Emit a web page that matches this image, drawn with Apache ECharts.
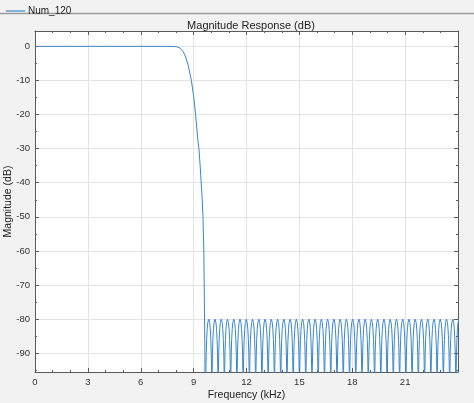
<!DOCTYPE html>
<html>
<head>
<meta charset="utf-8">
<script src="https://cdn.jsdelivr.net/npm/echarts@6/dist/echarts.min.js"></script>
<style>
  html, body { margin: 0; padding: 0; background: #f2f2f2; }
  #chart { width: 474px; height: 403px; }
</style>
</head>
<body>
<div id="chart"></div>
<script>
// passband + transition band (kHz, dB)
var transFreq = [0, 2, 4, 6, 7.5, 7.9, 8.1, 8.25, 8.4, 8.5, 8.58, 8.68, 8.77, 8.87, 9.0, 9.11, 9.24, 9.3, 9.37, 9.43, 9.49, 9.53, 9.58, 9.6, 9.62, 9.64];
var transDb   = [0, 0, 0, 0, 0, -0.05, -0.2, -0.6, -1.5, -2.5, -3.7, -5.3, -7.5, -10, -14.5, -20, -27.4, -30, -35, -40, -45, -50, -60, -70, -80, -90];

// stopband: nulls (kHz) and the shape of one ripple lobe starting at a null
var stopNulls = [9.68, 10.035, 10.39, 10.745, 11.10, 11.455, 11.81, 12.165, 12.52, 12.875,
                 13.23, 13.585, 13.94, 14.295, 14.65, 15.005, 15.36, 15.715, 16.07, 16.425,
                 16.78, 17.135, 17.49, 17.845, 18.20, 18.555, 18.91, 19.265, 19.62, 19.975,
                 20.33, 20.685, 21.04, 21.395, 21.75, 22.105, 22.46, 22.815, 23.17, 23.525, 23.88];
var lobeOffset = [0, 0.018, 0.035, 0.059, 0.089, 0.124, 0.1775, 0.231, 0.266, 0.296, 0.32, 0.337];
var lobeDb     = [-140, -95, -90, -86, -83, -81, -80, -81, -83, -86, -90, -95];

var points = [];
for (var i = 0; i < transFreq.length; i++) points.push([transFreq[i], transDb[i]]);
stopNulls.forEach(function (n) {
    for (var j = 0; j < lobeOffset.length; j++) points.push([+(n + lobeOffset[j]).toFixed(4), lobeDb[j]]);
});

var FONT = 'Liberation Sans, Arial, sans-serif';
var AXIS_COLOR = '#5a5a5a';
var GRID_COLOR = '#e3e3e3';

// frame axes (top / right) only carry ticks
function frameAxis(pos, min, max, extra) {
    var a = {
        type: 'value', position: pos, min: min, max: max,
        axisLine: { show: true, onZero: false, lineStyle: { color: AXIS_COLOR, width: 1 } },
        axisTick: { show: true, inside: true, length: 4, lineStyle: { color: AXIS_COLOR } },
        axisLabel: { show: false },
        splitLine: { show: false }
    };
    return Object.assign(a, extra);
}

var myChart = echarts.init(document.getElementById('chart'));

var option = {
    animation: false,
    backgroundColor: '#f2f2f2',
    textStyle: { fontFamily: FONT },
    title: {
        text: 'Magnitude Response (dB)',
        left: 246, top: 15, textAlign: 'center',
        textStyle: { fontSize: 11, fontWeight: 'normal', color: '#222', fontFamily: FONT }
    },
    legend: {
        left: 1, top: 1,
        itemWidth: 19, itemHeight: 1.2, itemGap: 4,
        icon: 'rect',
        textStyle: { fontSize: 10, color: '#222', fontFamily: FONT, padding: [0, 0, 0, -2] },
        data: ['Num_120']
    },
    graphic: [{
        type: 'line', z: 0,
        shape: { x1: 0, y1: 13.5, x2: 474, y2: 13.5 },
        style: { stroke: '#9a9a9a', lineWidth: 1.5 }
    }],
    grid: {
        left: 35, top: 31, right: 16, bottom: 31,
        show: true, backgroundColor: '#fff', borderWidth: 0,
        containLabel: false, outerBoundsMode: 'none'
    },
    xAxis: [{
        type: 'value', position: 'bottom',
        min: 0, max: 24, interval: 3,
        name: 'Frequency (kHz)', nameLocation: 'middle', nameGap: 18, nameMoveOverlap: false,
        nameTextStyle: { fontSize: 10.5, color: '#222', fontFamily: FONT },
        axisLine: { show: true, onZero: false, lineStyle: { color: AXIS_COLOR, width: 1 } },
        axisTick: { show: true, inside: true, length: 4, lineStyle: { color: AXIS_COLOR } },
        minorTick: { show: true, splitNumber: 3, length: 2, lineStyle: { color: AXIS_COLOR } },
        axisLabel: { fontSize: 9.5, color: '#333', margin: 5, showMaxLabel: false },
        splitLine: { show: true, lineStyle: { color: GRID_COLOR, width: 1 } }
    }, frameAxis('top', 0, 24, {
        interval: 3,
        minorTick: { show: true, splitNumber: 3, length: 2, lineStyle: { color: AXIS_COLOR } }
    })],
    yAxis: [{
        type: 'value', position: 'left',
        min: -95.5, max: 4.5, splitNumber: 10,
        name: 'Magnitude (dB)', nameLocation: 'middle', nameGap: 21, nameRotate: 90, nameMoveOverlap: false,
        nameTextStyle: { fontSize: 10.5, color: '#222', fontFamily: FONT },
        axisLine: { show: true, onZero: false, lineStyle: { color: AXIS_COLOR, width: 1 } },
        axisTick: { show: true, inside: true, length: 4, lineStyle: { color: AXIS_COLOR } },
        minorTick: { show: true, splitNumber: 2, length: 2, lineStyle: { color: AXIS_COLOR } },
        axisLabel: { fontSize: 9.5, color: '#333', margin: 5, showMinLabel: false, showMaxLabel: false },
        splitLine: { show: true, lineStyle: { color: GRID_COLOR, width: 1 } }
    }, frameAxis('right', -95.5, 4.5, {
        splitNumber: 10,
        minorTick: { show: true, splitNumber: 2, length: 2, lineStyle: { color: AXIS_COLOR } }
    })],
    series: [{
        name: 'Num_120',
        type: 'line',
        xAxisIndex: 0, yAxisIndex: 0,
        data: points,
        symbol: 'none',
        clip: true,
        lineStyle: { color: '#3a86c6', width: 1 },
        itemStyle: { color: '#3a86c6' }
    }]
};

myChart.setOption(option);
</script>
</body>
</html>
